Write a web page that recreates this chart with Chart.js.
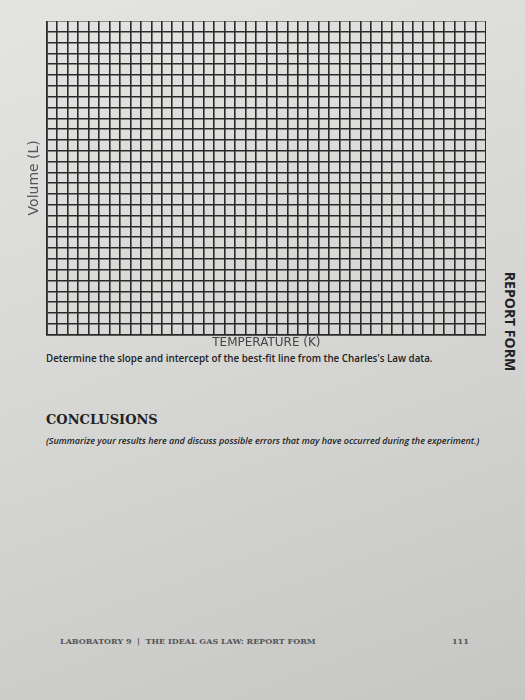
<!DOCTYPE html>
<html>
<head>
<meta charset="utf-8">
<script src="https://cdn.jsdelivr.net/npm/chart.js@4"></script>
<style>
  body { margin: 0; width: 525px; height: 700px; overflow: hidden;
         background: linear-gradient(160deg, #e4e4e2 0%, #d6d6d4 50%, #c6c6c4 100%);
         font-family: "Open Sans", sans-serif; color: #222; position: relative; }
  #wrap { position: absolute; left: 22px; top: 21px; width: 464px; height: 329px; }
  .t { position: absolute; white-space: nowrap; }
</style>
</head>
<body>
<div id="wrap"><canvas id="grid"></canvas></div>
<div class="t" style="left:46px;top:352px;font-size:9.8px;font-weight:600;">Determine the slope and intercept of the best-fit line from the Charles's Law data.</div>
<div class="t" style="left:46px;top:412px;font-size:13px;font-weight:bold;font-family:'DejaVu Serif',serif;">CONCLUSIONS</div>
<div class="t" style="left:46px;top:434px;font-size:9px;font-style:italic;font-weight:600;">(Summarize your results here and discuss possible errors that may have occurred during the experiment.)</div>
<div class="t" style="left:60px;top:636px;font-size:8px;font-weight:bold;font-family:'DejaVu Serif',serif;color:#555;">LABORATORY 9 &nbsp;|&nbsp; THE IDEAL GAS LAW: REPORT FORM</div>
<div class="t" style="left:452px;top:636px;font-size:8px;font-weight:bold;font-family:'DejaVu Serif',serif;color:#555;">111</div>
<div class="t" style="left:440px;top:312px;font-size:14px;font-weight:bold;transform:rotate(90deg);transform-origin:center;width:140px;text-align:center;">REPORT FORM</div>
<script>
// grid paper: empty axes, one line per unit
const xRange = [0, 42];
const yRange = [0, 29];
const xTitle = 'TEMPERATURE (K)';
const yTitle = 'Volume (L)';
const points = [];

const ctx = document.getElementById('grid').getContext('2d');
new Chart(ctx, {
    type: 'scatter',
    data: { datasets: [{ data: points, pointRadius: 3, backgroundColor: '#222' }] },
    options: {
        responsive: true,
        maintainAspectRatio: false,
        animation: false,
        plugins: { legend: { display: false }, tooltip: { enabled: false } },
        scales: {
            x: {
                min: xRange[0], max: xRange[1],
                ticks: { stepSize: 1, display: false },
                grid: { color: '#2a2a2a', lineWidth: 1.6, drawTicks: false },
                border: { color: '#2a2a2a', width: 1.6 },
                title: { display: true, text: xTitle, color: '#444',
                         font: { family: 'DejaVu Sans', size: 12 }, padding: { top: 1, bottom: 0 } }
            },
            y: {
                min: yRange[0], max: yRange[1],
                ticks: { stepSize: 1, display: false },
                grid: { color: '#2a2a2a', lineWidth: 1.6, drawTicks: false },
                border: { color: '#2a2a2a', width: 1.6 },
                title: { display: true, text: yTitle, color: '#555',
                         font: { family: 'DejaVu Sans', size: 14 }, padding: { bottom: 4 } }
            }
        }
    }
});
</script>
</body>
</html>
